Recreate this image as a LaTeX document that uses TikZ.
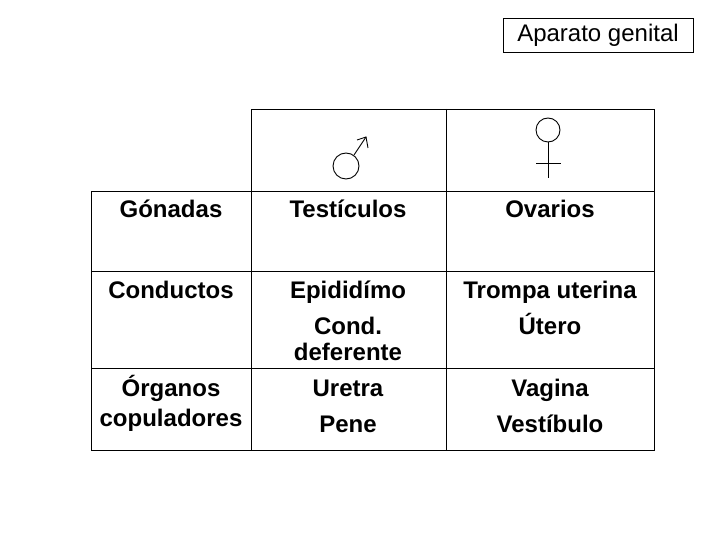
\documentclass[tikz,border=0pt]{standalone}
\usepackage{fontspec}
\setmainfont{Liberation Sans}
\begin{document}
\begin{tikzpicture}[x=1pt,y=-1pt,
  cell/.style={anchor=base, align=center, font=\bfseries\fontsize{24}{36}\selectfont},
  grid/.style={line width=0.8pt, black}]
\useasboundingbox (0,0) rectangle (720,540);
% title
\node[draw, line width=0.8pt, inner sep=4pt, minimum width=190, minimum height=34, font=\fontsize{24}{28}\selectfont] (title) at (598,35) {Aparato genital};
% table lines
\draw[grid] (251,109) rectangle (654,450);
\draw[grid] (91,191) rectangle (251,450);
\draw[grid] (446,109) -- (446,450);
\foreach \y in {191,271,368} \draw[grid] (91,\y) -- (654,\y);
% symbols
\draw[line width=0.9pt] (346,166) circle (13);
\coordinate (mtip) at (366,137);
\draw[line width=0.9pt] (354,155) -- (mtip);
\draw[line width=0.9pt] (357,140) -- (mtip) -- (368,148);
\draw[line width=0.9pt] (548,130) circle (12);
\draw[line width=0.9pt] (548,142) -- (548,178);
\draw[line width=0.9pt] (536,163) -- (561,163);
% cells
\node[cell] (gon) at (171,218) {Gónadas};
\node[cell] (tes) at (348,218) {Testículos};
\node[cell] (ova) at (550,218) {Ovarios};
\node[cell] (con) at (171,298) {Conductos};
\node[cell] (epi) at (348,298) {Epididímo};
\node[cell] (cond) at (348,334) {Cond.};
\node[cell] (def) at (348,360) {deferente};
\node[cell] (tro) at (550,298) {Trompa uterina};
\node[cell] (ute) at (550,334) {Útero};
\node[cell] (org) at (171,396) {Órganos};
\node[cell] (cop) at (171,426) {copuladores};
\node[cell] (ure) at (348,396) {Uretra};
\node[cell] (pen) at (348,432) {Pene};
\node[cell] (vag) at (550,396) {Vagina};
\node[cell] (ves) at (550,432) {Vestíbulo};
\end{tikzpicture}
\end{document}
